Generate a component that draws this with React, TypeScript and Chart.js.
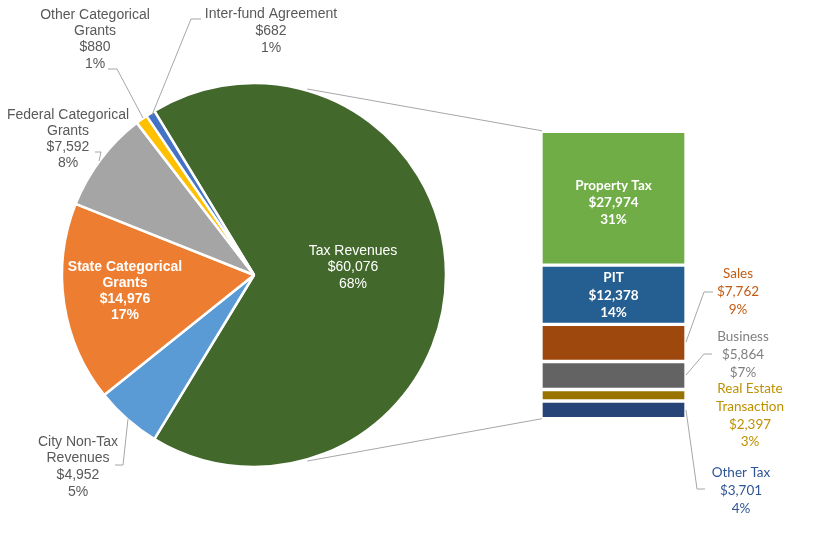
import React, { useEffect, useRef } from "react";
import { Chart, registerables } from "chart.js";

Chart.register(...registerables);

// ---------- data ----------
const pieCategories = [
  "Tax Revenues",
  "City Non-Tax\nRevenues",
  "State Categorical\nGrants",
  "Federal Categorical\nGrants",
  "Other Categorical\nGrants",
  "Inter-fund Agreement",
];
const pieValues = [60076, 4952, 14976, 7592, 880, 682];
const piePercents = ["68%", "5%", "17%", "8%", "1%", "1%"];
const pieColors = ["#43682B", "#5B9BD5", "#ED7D31", "#A5A5A5", "#FFC000", "#4472C4"];

// bottom to top in the stacked bar
const barCategories = ["Other Tax", "Real Estate\nTransaction", "Business", "Sales", "PIT", "Property Tax"];
const barValues = [3701, 2397, 5864, 7762, 12378, 27974];
const barPercents = ["4%", "3%", "$7%", "9%", "14%", "31%"];
const barColors = ["#264478", "#997300", "#636363", "#9E480E", "#255E91", "#70AD47"];

// ---------- layout (label placement only) ----------
const W = 818;
const H = 545;
const PIE_FONT = '"Liberation Sans", Arial, sans-serif';
const BAR_FONT = 'Lato, "Open Sans", sans-serif';
const LEADER = "#A6A6A6";

const pieLabelLayout = [
  { x: 353, y: 251, dy: 16.5, color: "#FFFFFF", bold: false },
  { x: 78, y: 442, dy: 16.6, color: "#595959", bold: false },
  { x: 125, y: 267, dy: 16.2, color: "#FFFFFF", bold: true },
  { x: 68, y: 115, dy: 16, color: "#595959", bold: false },
  { x: 95, y: 15, dy: 16.3, color: "#595959", bold: false },
  { x: 271, y: 14, dy: 17, color: "#595959", bold: false },
];
const pieLeaders: (number[][] | null)[] = [
  null,
  [[115, 465], [123, 465], [128, 419]],
  null,
  [[95, 152], [101, 152], [99, 161]],
  [[108, 69], [117, 69], [143, 118]],
  [[201, 19], [191, 19], [152, 115]],
];

const barLabelLayout = [
  { x: 741, y: 473, dy: 17.6, color: "#2F5597", bold: false },
  { x: 750, y: 389, dy: 17.7, color: "#BF9000", bold: false },
  { x: 743, y: 337, dy: 18, color: "#7F7F7F", bold: false },
  { x: 738, y: 274, dy: 18, color: "#C55A11", bold: false },
  { x: 613.5, y: 278, dy: 17.5, color: "#FFFFFF", bold: true },
  { x: 613.5, y: 186, dy: 17, color: "#FFFFFF", bold: true },
];
const barLeaders: (number[][] | null)[] = [
  [[686, 410], [697, 489], [705, 489]],
  null,
  [[712, 354], [704, 354], [686, 375]],
  [[713, 292], [704, 292], [686, 342]],
  null,
  null,
];

const money = (v: number) => "$" + v.toLocaleString("en-US");

function drawLines(ctx: CanvasRenderingContext2D, pts: number[][]) {
  ctx.beginPath();
  ctx.moveTo(pts[0][0], pts[0][1]);
  for (let i = 1; i < pts.length; i++) ctx.lineTo(pts[i][0], pts[i][1]);
  ctx.stroke();
}

function drawLabel(
  ctx: CanvasRenderingContext2D,
  lines: string[],
  lay: { x: number; y: number; dy: number; color: string; bold: boolean },
  family: string,
  size: number
) {
  ctx.fillStyle = lay.color;
  ctx.font = `${lay.bold ? "bold " : ""}${size}px ${family}`;
  ctx.textAlign = "center";
  ctx.textBaseline = "middle";
  lines.forEach((t, i) => ctx.fillText(t, lay.x, lay.y + i * lay.dy));
}

export default function App() {
  const pieRef = useRef<HTMLCanvasElement>(null);
  const barRef = useRef<HTMLCanvasElement>(null);

  useEffect(() => {
    const pieTotal = pieValues.reduce((a, b) => a + b, 0);
    const taxSweep = (pieValues[0] / pieTotal) * 360;

    const pie = new Chart(pieRef.current!, {
      type: "pie",
      data: {
        labels: pieCategories,
        datasets: [
          {
            data: pieValues,
            backgroundColor: pieColors,
            borderColor: "#FFFFFF",
            borderWidth: 2.5,
            radius: 192,
          } as any,
        ],
      },
      options: {
        responsive: false,
        animation: false,
        rotation: 90 - taxSweep / 2,
        layout: { padding: { left: 63, right: W - 445, top: 84, bottom: H - 466 } },
        plugins: { legend: { display: false }, tooltip: { enabled: false } },
      },
    });

    const annotate = {
      id: "annotate",
      afterDraw(chart: any) {
        const ctx: CanvasRenderingContext2D = chart.ctx;
        ctx.save();
        // connectors pie -> bar
        const arc: any = pie.getDatasetMeta(0).data[0];
        const cx = arc.x, cy = arc.y, R = arc.outerRadius + 1.5;
        const topBar: any = chart.getDatasetMeta(barValues.length - 1).data[0];
        const botBar: any = chart.getDatasetMeta(0).data[0];
        const leftX = topBar.x - topBar.width / 2 + 1;
        const a1 = (16 * Math.PI) / 180;
        const a2 = (164 * Math.PI) / 180;
        ctx.strokeStyle = LEADER;
        ctx.lineWidth = 1;
        drawLines(ctx, [[cx + R * Math.sin(a1), cy - R * Math.cos(a1)], [leftX, topBar.y - 0.5]]);
        drawLines(ctx, [[cx + R * Math.sin(a2), cy - R * Math.cos(a2)], [leftX, botBar.base]]);

        // leader lines
        pieLeaders.forEach((p) => p && drawLines(ctx, p));
        barLeaders.forEach((p) => p && drawLines(ctx, p));

        // pie labels
        pieCategories.forEach((name, i) => {
          const lines = [...name.split("\n"), money(pieValues[i]), piePercents[i]];
          drawLabel(ctx, lines, pieLabelLayout[i], PIE_FONT, 14);
        });
        // bar labels
        barCategories.forEach((name, i) => {
          const lines = [...name.split("\n"), money(barValues[i]), barPercents[i]];
          drawLabel(ctx, lines, barLabelLayout[i], BAR_FONT, 13.5);
        });
        ctx.restore();
      },
    };

    const barTotal = barValues.reduce((a, b) => a + b, 0);
    const bar = new Chart(barRef.current!, {
      type: "bar",
      data: {
        labels: ["Tax Revenues"],
        datasets: barCategories.map((name, i) => ({
          label: name,
          data: [barValues[i]],
          backgroundColor: barColors[i],
          borderColor: "#FFFFFF",
          borderWidth: 2,
          borderSkipped: false,
          barPercentage: 1,
          categoryPercentage: 1,
        })),
      },
      options: {
        responsive: false,
        animation: false,
        layout: { padding: { left: 541, right: W - 686, top: 131.3, bottom: H - 418.7 } },
        scales: {
          x: { stacked: true, display: false },
          y: { stacked: true, display: false, min: 0, max: barTotal },
        },
        plugins: { legend: { display: false }, tooltip: { enabled: false } },
      },
      plugins: [annotate],
    });

    return () => {
      bar.destroy();
      pie.destroy();
    };
  }, []);

  return (
    <div style={{ position: "fixed", left: 0, top: 0, width: W, height: H, background: "#FFFFFF" }}>
      <canvas ref={pieRef} width={W} height={H} style={{ position: "absolute", left: 0, top: 0 }} />
      <canvas ref={barRef} width={W} height={H} style={{ position: "absolute", left: 0, top: 0 }} />
    </div>
  );
}
